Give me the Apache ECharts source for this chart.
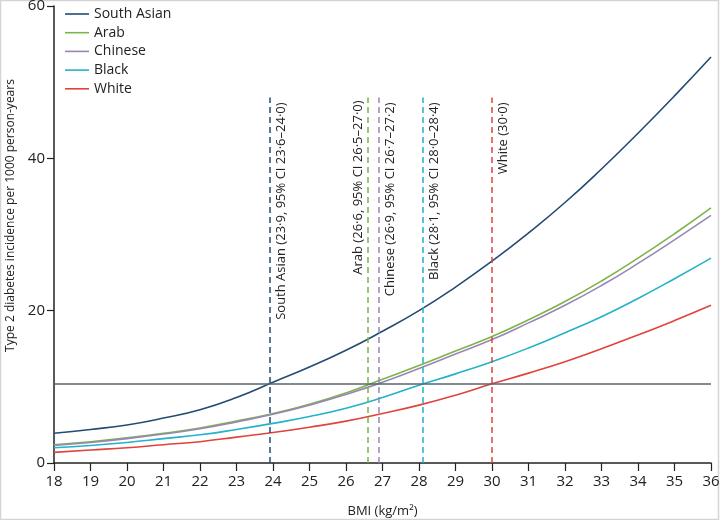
<!DOCTYPE html>
<html>
<head>
<meta charset="utf-8">
<script src="https://cdn.jsdelivr.net/npm/echarts@6/dist/echarts.min.js"></script>
<style>
  html, body { margin: 0; padding: 0; background: #fff; }
  #chart { width: 721px; height: 520px; }
</style>
</head>
<body>
<div id="chart"></div>
<script>
// BMI values (x)
var bmi = [18, 19, 20, 21, 22, 23, 24, 25, 26, 27, 28, 29, 30, 31, 32, 33, 34, 35, 36];

// incidence per 1000 person-years
var southAsian = [3.9, 4.4, 5.0, 5.9, 7.0, 8.6, 10.6, 12.6, 14.8, 17.3, 20.0, 23.1, 26.5, 30.2, 34.2, 38.6, 43.3, 48.2, 53.3];
var arab       = [2.4, 2.8, 3.3, 3.9, 4.6, 5.5, 6.5, 7.7, 9.2, 11.0, 12.8, 14.7, 16.6, 18.8, 21.2, 23.9, 26.9, 30.1, 33.5];
var chinese    = [2.3, 2.7, 3.2, 3.8, 4.5, 5.4, 6.4, 7.6, 9.0, 10.6, 12.4, 14.3, 16.2, 18.4, 20.7, 23.3, 26.2, 29.3, 32.5];
var black      = [2.0, 2.3, 2.7, 3.2, 3.7, 4.4, 5.2, 6.1, 7.2, 8.6, 10.2, 11.7, 13.3, 15.1, 17.1, 19.2, 21.6, 24.2, 26.9];
var white      = [1.4, 1.7, 2.0, 2.4, 2.8, 3.4, 4.0, 4.7, 5.5, 6.5, 7.6, 8.9, 10.4, 11.8, 13.3, 15.0, 16.8, 18.7, 20.7];

// equivalent BMI cut-offs and their labels
var groups = ['South Asian', 'Arab', 'Chinese', 'Black', 'White'];
var colors = ['#234b74', '#7bb548', '#9a86b4', '#22b2c9', '#e0433b'];
var cutoffs = [23.9, 26.6, 26.9, 28.1, 30.0];
var cutoffLabels = [
    'South Asian (23\u00b79, 95% CI 23\u00b76\u201324\u00b70)',
    'Arab (26\u00b76, 95% CI 26\u00b75\u201327\u00b70)',
    'Chinese (26\u00b79, 95% CI 26\u00b77\u201327\u00b72)',
    'Black (28\u00b71, 95% CI 28\u00b70\u201328\u00b74)',
    'White (30\u00b70)'
];
var labelSide = ['insideEndBottom', 'insideEndTop', 'insideEndBottom', 'insideEndBottom', 'insideEndBottom'];
var referenceIncidence = 10.4;
var cutoffTop = 48;

var seriesValues = [southAsian, arab, chinese, black, white];
var fontName = '"Open Sans", "Noto Sans", sans-serif';

var chart = echarts.init(document.getElementById('chart'));

var series = groups.map(function (name, i) {
    return {
        name: name,
        type: 'line',
        smooth: true,
        showSymbol: false,
        symbol: 'none',
        data: bmi.map(function (b, j) { return [b, seriesValues[i][j]]; }),
        lineStyle: { color: colors[i], width: 1.6 },
        itemStyle: { color: colors[i] },
        z: 3,
        markLine: {
            silent: true,
            symbol: 'none',
            animation: false,
            lineStyle: { color: colors[i], type: [6, 4], width: 1.5 },
            label: {
                show: true,
                position: labelSide[i],
                formatter: cutoffLabels[i],
                color: '#222',
                fontSize: 13,
                fontFamily: fontName,
                distance: i === 1 ? 3 : 5
            },
            data: [[
                { coord: [cutoffs[i], 0] },
                { coord: [cutoffs[i], cutoffTop] }
            ]]
        }
    };
});

// horizontal reference line
series.push({
    name: 'ref',
    type: 'line',
    data: [],
    markLine: {
        silent: true,
        symbol: 'none',
        animation: false,
        lineStyle: { color: '#56656e', type: 'solid', width: 1.5 },
        label: { show: false },
        data: [{ yAxis: referenceIncidence }]
    }
});

var option = {
    animation: false,
    grid: { left: 54, right: 10, top: 6, bottom: 57, outerBoundsMode: 'none', containLabel: false },
    legend: {
        data: groups.map(function (g, i) {
            return { name: g, itemStyle: { color: colors[i] } };
        }),
        orient: 'vertical',
        left: 60,
        top: 2,
        itemWidth: 24,
        itemHeight: 1.6,
        itemGap: 4.7,
        icon: 'rect',
        textStyle: { fontSize: 14, color: '#222', fontFamily: fontName }
    },
    xAxis: {
        type: 'value',
        min: 18,
        max: 36,
        interval: 1,
        name: 'BMI (kg/m\u00b2)',
        nameLocation: 'middle',
        nameGap: 42,
        nameTextStyle: { fontSize: 13, color: '#222', fontFamily: fontName },
        axisLine: { lineStyle: { color: '#222', width: 1.5 } },
        axisTick: { show: true, length: 8, lineStyle: { color: '#222', width: 1.2 } },
        axisLabel: { fontSize: 15, color: '#222', fontFamily: fontName, margin: 11 },
        splitLine: { show: false }
    },
    yAxis: {
        type: 'value',
        min: 0,
        max: 60,
        interval: 20,
        name: 'Type 2 diabetes incidence per 1000 person-years',
        nameLocation: 'middle',
        nameGap: 35,
        nameTextStyle: { fontSize: 12, color: '#222', fontFamily: fontName, padding: [0, 0, 0, 38] },
        axisLine: { show: true, lineStyle: { color: '#222', width: 1.5 } },
        axisTick: { show: true, length: 7, lineStyle: { color: '#222', width: 1.2 } },
        axisLabel: { fontSize: 15, color: '#222', fontFamily: fontName, margin: 9 },
        splitLine: { show: false }
    },
    graphic: [{
        type: 'rect',
        shape: { x: 0.5, y: 0.5, width: 718, height: 519 },
        style: { fill: 'none', stroke: '#d4d4d4', lineWidth: 1.5 },
        silent: true
    }],
    series: series
};

chart.setOption(option);
</script>
</body>
</html>
